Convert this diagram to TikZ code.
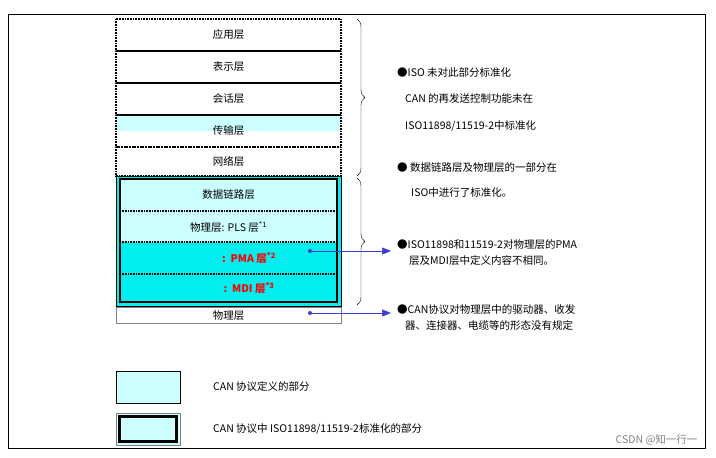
\documentclass[tikz,border=0pt]{standalone}
\usepackage{fontspec}
\setmainfont{Noto Sans CJK SC}
\usetikzlibrary{decorations.pathreplacing,arrows.meta}
\definecolor{lc}{RGB}{204,255,255}
\definecolor{cy}{RGB}{0,238,238}
\definecolor{ab}{RGB}{60,60,210}
\tikzset{
 lay/.style={draw, dash pattern=on 1pt off 0.6pt, line width=1.1pt},
 lt/.style={font=\fontsize{10.5}{12}\selectfont, inner sep=0pt},
 rt/.style={font=\fontsize{10.5}{12}\selectfont\bfseries, text=red, inner sep=0pt},
 nt/.style={font=\fontsize{10.5}{12}\selectfont, anchor=west, inner sep=0pt},
 arr/.style={ab, line width=0.6pt, -{Triangle[length=9pt,width=7pt]}},
}
\begin{document}
\begin{tikzpicture}[x=1pt,y=-1pt]
\useasboundingbox (0,0) rectangle (716,458);
\draw[line width=0.8pt] (8,14) rectangle (705,448);
% upper layers
\fill[lc] (116,115) rectangle (341,131);
\foreach \a/\b in {19/51,51/83,83/115,115/147,147/176} \draw[lay] (116,\a) rectangle (341,\b);
\node[lt] (app) at (228.5,35) {应用层};
\node[lt] (pre) at (228.5,67) {表示层};
\node[lt] (ses) at (228.5,99) {会话层};
\node[lt] (tra) at (228.5,131) {传输层};
\node[lt] (net) at (228.5,161) {网络层};
% lower
\fill[cy] (116,176) rectangle (341,306);
\fill[lc] (120,179) rectangle (337,242);
\draw[line width=0.8pt] (116,176) rectangle (341,306);
\draw[lay] (120,211) -- (337,211) (120,242) -- (337,242) (120,274) -- (337,274);
\draw[line width=2.2pt] (120,179) rectangle (337,302);
\node[lt] (dl) at (228.5,195) {数据链路层};
\node[lt] (pls) at (228.5,227) {物理层: PLS 层\textsuperscript{*1}};
\node[rt] (pma) at (249,258) {:\ \ PMA 层\textsuperscript{*2}};
\node[rt] (mdi) at (249,288) {:\ \ MDI 层\textsuperscript{*3}};
\draw[gray] (116,307) rectangle (341,323);
\node[lt] (phy) at (228.5,316) {物理层};
% braces
\draw[decorate,decoration={brace,amplitude=8pt}] (357,19) -- (357,176);
\draw[decorate,decoration={brace,amplitude=8pt}] (357,178) -- (357,305);
% notes
\node[nt] (n1) at (397,73) {●ISO 未对此部分标准化};
\node[nt] at (405,99) {CAN 的再发送控制功能未在};
\node[nt] at (405,126) {ISO11898/11519-2中标准化};
\node[nt] (n2) at (397,168) {● 数据链路层及物理层的一部分在};
\node[nt] at (411,193) {ISO中进行了标准化。};
\node[nt] (n3) at (397,245) {●ISO11898和11519-2对物理层的PMA};
\node[nt] at (409,261) {层及MDI层中定义内容不相同。};
\node[nt] (n4) at (397,310) {●CAN协议对物理层中的驱动器、收发};
\node[nt] at (405,326) {器、连接器、电缆等的形态没有规定};
% arrows
\coordinate (s1) at (310,251); \coordinate (e1) at (391,251);
\coordinate (s2) at (310,313); \coordinate (e2) at (391,313);
\fill[ab] (s1) circle (2pt); \fill[ab] (s2) circle (2pt);
\draw[arr] (s1) -- (e1);
\draw[arr] (s2) -- (e2);
% legend
\draw[fill=lc] (116,371) rectangle (180,403);
\node[nt] (l1) at (213,387) {CAN 协议定义的部分};
\draw[fill=lc, draw=gray] (116,413) rectangle (180,445);
\draw[line width=2.2pt, fill=lc] (119.5,416.5) rectangle (176.5,441.5);
\node[nt] (l2) at (213,429) {CAN 协议中 ISO11898/11519-2标准化的部分};
\node[font=\fontsize{10.5}{12}\selectfont, text=gray, anchor=east] (wm) at (701,440) {CSDN @知一行一};
\end{tikzpicture}
\end{document}
